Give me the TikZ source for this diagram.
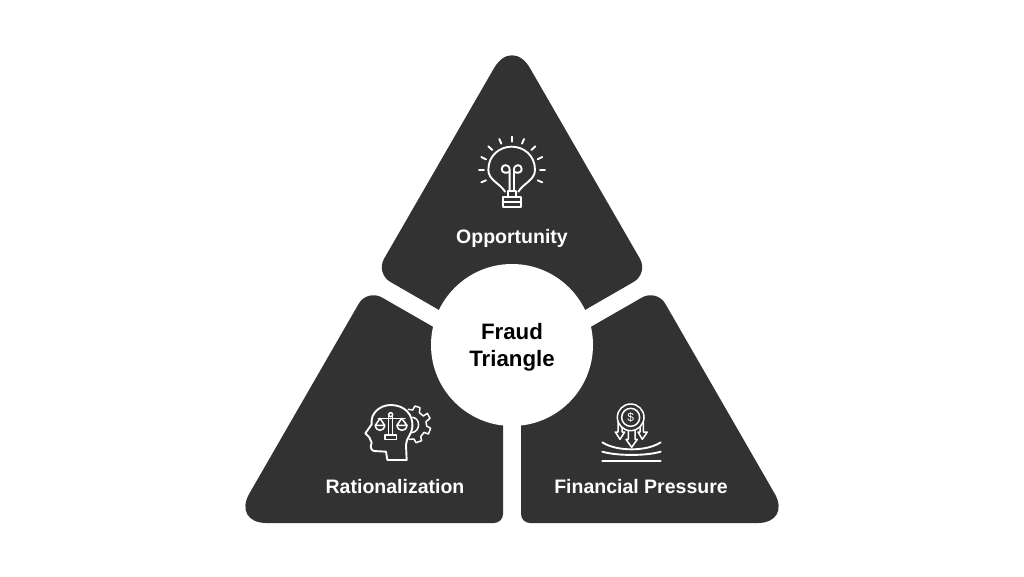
\documentclass[tikz,border=0pt]{standalone}
\usepackage{fontspec}
\setmainfont{Liberation Sans}
\definecolor{wedgegray}{HTML}{323232}
\tikzset{
  wedge/.style={fill=wedgegray,draw=none},
  iconline/.style={draw=white,line width=1.9pt,line cap=round,line join=round},
  thinicon/.style={iconline,line width=1.5pt},
  wedgelabel/.style={text=white,font=\bfseries\fontsize{19.5}{22}\selectfont,inner sep=0pt},
  hublabel/.style={text=black,font=\bfseries\fontsize{22.3}{27}\selectfont,align=center,inner sep=0pt}
}
\begin{document}
\begin{tikzpicture}[x=1pt,y=-1pt]
\useasboundingbox (0,0) rectangle (1024,576);
\fill[white] (0,0) rectangle (1024,576);

% the three wedges
\fill[wedge] (512,352) [rounded corners=17pt] -- (375.6,273.4) [rounded corners=36pt] -- (512,37) [rounded corners=17pt] -- (648.4,273.4) [sharp corners] -- cycle;
\fill[wedge] (503,367) [rounded corners=17pt] -- (367.2,289) [rounded corners=34pt] -- (232.4,523) [rounded corners=9pt] -- (503,523) [sharp corners] -- cycle;
\fill[wedge] (521,367) [rounded corners=17pt] -- (656.8,289) [rounded corners=34pt] -- (791.6,523) [rounded corners=9pt] -- (521,523) [sharp corners] -- cycle;

% hub
\fill[white] (512,345) circle (81);
\node[hublabel] (hub) at (512,347.5) {Fraud\hspace{4pt}\\Triangle};

\node[wedgelabel] (opportunity) at (512,238) {Opportunity};
\node[wedgelabel] (rationalization) at (395,487) {Rationalization};
\node[wedgelabel] (pressure) at (641,487) {Financial Pressure};

% bulb
\begin{scope}[shift={(460,120)},scale=1/3]
\draw[iconline] (135,215) .. controls (120,190) and (85,180) .. (85,150) .. controls (85,105) and (120,80) .. (155,80) .. controls (190,80) and (225,105) .. (225,150) .. controls (225,180) and (190,190) .. (175,215);
\draw[iconline] (128,232) rectangle (183,262);
\draw[iconline] (128,247) -- (183,247);
\draw[iconline] (143,232) -- (143,212) -- (168,212) -- (168,232);
\draw[iconline] (149,212) -- (149,150) .. controls (149,130) and (125,132) .. (125,147) .. controls (125,160) and (140,160) .. (149,155);
\draw[iconline] (162,212) -- (162,150) .. controls (162,130) and (185,132) .. (185,147) .. controls (185,160) and (170,160) .. (162,155);
\draw[iconline] (155,50) -- (155,65);
\draw[iconline] (118,57) -- (124,71);
\draw[iconline] (192,57) -- (186,71);
\draw[iconline] (85,79) -- (97,90);
\draw[iconline] (226,79) -- (214,90);
\draw[iconline] (64,111) -- (78,118);
\draw[iconline] (247,111) -- (233,118);
\draw[iconline] (57,150) -- (72,150);
\draw[iconline] (240,150) -- (255,150);
\draw[iconline] (64,187) -- (78,181);
\draw[iconline] (247,187) -- (233,181);
\end{scope}

% head, scales and gear
\begin{scope}[shift={(350,390)},scale=1/3]
\draw[iconline] (112,210) -- (108,185) -- (72,183) .. controls (62,180) and (60,170) .. (65,158) -- (58,142) -- (46,130) -- (65,103) .. controls (60,70) and (90,45) .. (122,45) .. controls (165,45) and (190,75) .. (187,110) .. controls (185,135) and (168,145) .. (168,165) -- (170,210) -- cycle;
\draw[thinicon] (175,58) -- (188,60) -- (195,48) -- (210,53) -- (208,68) -- (220,78) -- (232,70) -- (240,85) -- (228,95) -- (230,108) -- (242,115) -- (235,132) -- (222,127) -- (212,140) -- (215,152) -- (198,158) -- (192,147) -- (178,148);
\draw[thinicon] (188,82) .. controls (212,85) and (212,125) .. (185,128);
\draw[thinicon] (85,85) -- (165,85);
\draw[thinicon] (116,80) rectangle (128,134);
\draw[thinicon] (122,74) circle (6);
\draw[thinicon] (105,135) rectangle (140,148);
\draw[thinicon] (76,106) -- (90,85) -- (104,106) -- cycle;
\draw[thinicon] (76,106) .. controls (78,126) and (102,126) .. (104,106);
\draw[thinicon] (141,106) -- (155,85) -- (171,106) -- cycle;
\draw[thinicon] (141,106) .. controls (143,126) and (169,126) .. (171,106);
\end{scope}

% coin, arrows and bending lines
\begin{scope}[shift={(590,390)},scale=1/3]
\draw[thinicon] (122,82) circle (27);
\draw[thinicon] (122,82) circle (40);
\node[text=white,font=\fontsize{12}{12}\selectfont,inner sep=0pt] (dollar) at (122,82) {\$};
\draw[thinicon] (115,122) -- (115,148) -- (108,148) -- (125,172) -- (142,148) -- (135,148) -- (135,122);
\draw[thinicon] (84,95) -- (84,126) -- (76,126) -- (90,148) -- (104,126) -- (96,126) -- (96,112);
\draw[thinicon] (160,95) -- (160,126) -- (172,126) -- (157,148) -- (144,126) -- (150,126) -- (150,112);
\draw[iconline] (37,157) .. controls (80,185) and (170,185) .. (212,157);
\draw[iconline] (37,185) .. controls (80,198) and (170,198) .. (212,185);
\draw[iconline] (37,212) -- (212,212);
\end{scope}
\end{tikzpicture}
\end{document}
